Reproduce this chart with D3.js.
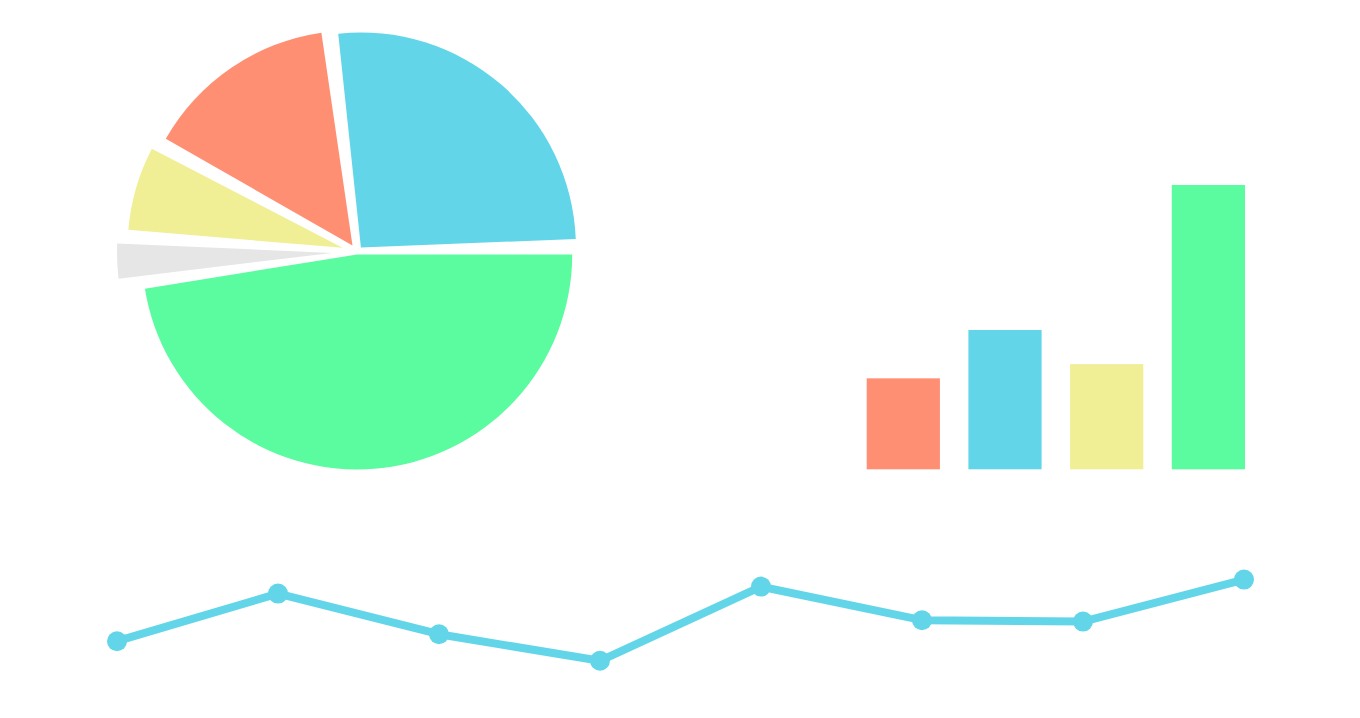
<!DOCTYPE html>
<html>
<head>
<meta charset="utf-8">
<script src="https://cdn.jsdelivr.net/npm/d3@7"></script>
<style>
  html, body { margin: 0; padding: 0; background: #fff; }
  svg { display: block; }
</style>
</head>
<body>
<div id="chart"></div>
<script>
// pie slices, clockwise from 3 o'clock
var pieNames  = ["green", "grey", "yellow", "orange", "cyan"];
var pieValues = [49, 2.7, 6.5, 14.9, 26.9];

// bars
var barNames  = ["A", "B", "C", "D"];
var barValues = [32, 49, 37, 100];

// line
var lineLabels = ["1", "2", "3", "4", "5", "6", "7", "8"];
var lineValues = [42, 76, 47, 28, 81, 57, 56, 86];

var colors = {
    green: "#5BFBA0",
    grey: "#E6E6E6",
    yellow: "#F0EF96",
    orange: "#FF8F73",
    cyan: "#62D6E8"
};
var barColors = ["#FF8F73", "#62D6E8", "#F0EF96", "#5BFBA0"];
// how far each slice is pulled out from the centre
var explode = [2.5, 25, 15, 8, 6];

var width = 1360, height = 718;

var svg = d3.select("#chart")
        .append("svg")
        .attr("width", width)
        .attr("height", height);

// ---- pie ----
var pad = 2.26 * Math.PI / 180;
var radius = 215;

var pie = d3.pie()
        .sort(null)
        .padAngle(pad)
        .startAngle(Math.PI / 2 - pad / 2)
        .endAngle(Math.PI / 2 - pad / 2 + 2 * Math.PI);

var arc = d3.arc()
        .innerRadius(0)
        .outerRadius(radius)
        .padAngle(0)
        .startAngle(function (d) { return d.startAngle + d.padAngle / 2; })
        .endAngle(function (d) { return d.endAngle - d.padAngle / 2; });

var pieG = svg.append("g")
        .attr("transform", "translate(357,252)");

pieG.selectAll("path")
        .data(pie(pieValues))
        .enter().append("path")
        .attr("d", arc)
        .attr("fill", function (d, i) { return colors[pieNames[i]]; })
        .attr("transform", function (d, i) {
            var mid = (d.startAngle + d.endAngle) / 2;
            return "translate(" + (explode[i] * Math.sin(mid)) + "," + (-explode[i] * Math.cos(mid)) + ")";
        });

// ---- bars ----
var x = d3.scaleBand()
        .domain(barNames)
        .range([866.7, 1245])
        .paddingInner(0.28)
        .paddingOuter(0);

var y = d3.scaleLinear()
        .domain([0, 100])
        .range([469.3, 185]);

svg.selectAll(".bar")
        .data(barValues)
        .enter().append("rect")
        .attr("class", "bar")
        .attr("x", function (d, i) { return x(barNames[i]); })
        .attr("y", function (d) { return y(d); })
        .attr("width", x.bandwidth())
        .attr("height", function (d) { return y(0) - y(d); })
        .attr("fill", function (d, i) { return barColors[i]; });

// ---- line ----
var lx = d3.scalePoint()
        .domain(lineLabels)
        .range([117, 1244]);

var ly = d3.scaleLinear()
        .domain([0, 100])
        .range([700, 560]);

var line = d3.line()
        .x(function (d, i) { return lx(lineLabels[i]); })
        .y(function (d) { return ly(d); });

svg.append("path")
        .datum(lineValues)
        .attr("d", line)
        .attr("fill", "none")
        .attr("stroke", colors.cyan)
        .attr("stroke-width", 8)
        .attr("stroke-linejoin", "round");

svg.selectAll(".dot")
        .data(lineValues)
        .enter().append("circle")
        .attr("class", "dot")
        .attr("cx", function (d, i) { return lx(lineLabels[i]); })
        .attr("cy", function (d) { return ly(d); })
        .attr("r", 10)
        .attr("fill", colors.cyan);
</script>
</body>
</html>
